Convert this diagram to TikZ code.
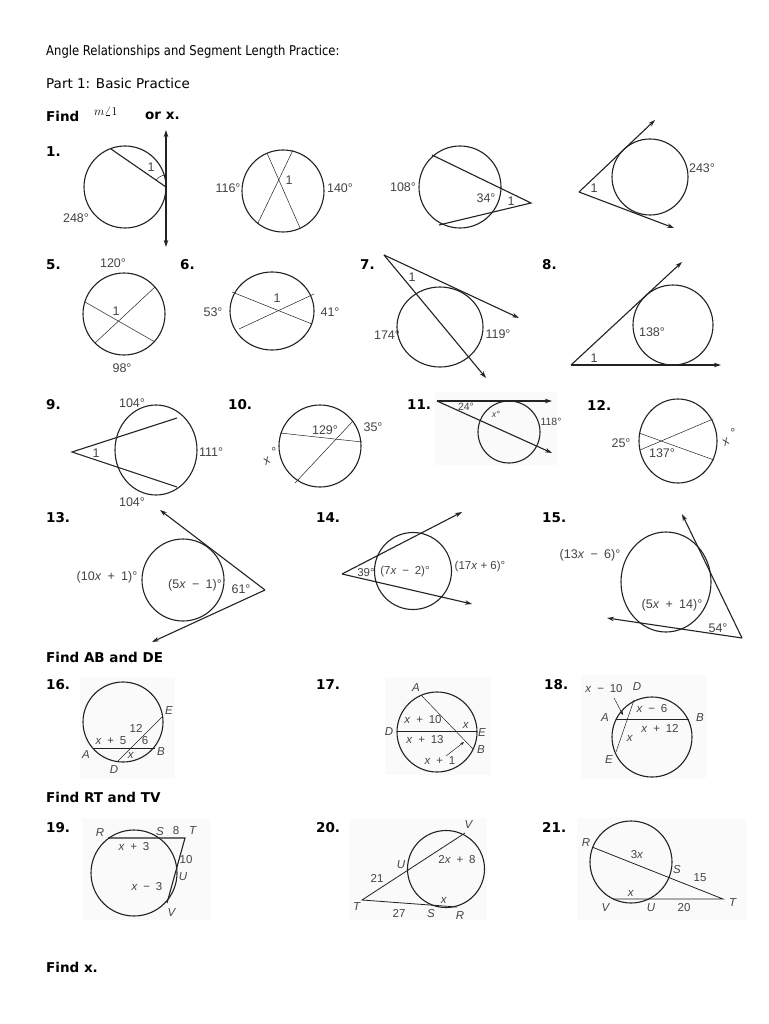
\documentclass[tikz,border=0pt]{standalone}
\usepackage{fontspec}
\setmainfont{DejaVu Sans}
\newfontfamily\figfont{Liberation Sans}
\newfontfamily\titlefont[FakeStretch=0.86]{DejaVu Sans}
\usetikzlibrary{arrows.meta, calc}
\definecolor{INK}{HTML}{222222}
\definecolor{LBLGRAY}{HTML}{444444}
\definecolor{SCANBG}{HTML}{FAFAFA}
\newcommand{\vx}{\textit{x}}
\newcommand{\gap}{\hspace{0.5em}}

\begin{document}
\begin{tikzpicture}[x=1pt, y=-1pt,
    circ/.style={draw=INK, line width=1.1pt},
    seg/.style={draw=INK, line width=1.1pt},
    fine/.style={draw=INK, line width=0.5pt},
    ray/.style={seg, -{Stealth[length=7pt, width=4.5pt]}},
    dray/.style={seg, {Stealth[length=7pt, width=4.5pt]}-{Stealth[length=7pt, width=4.5pt]}},
    lead/.style={fine, -{Stealth[length=4pt, width=3pt]}},
    scan/.style={fill=SCANBG},
    head/.style={anchor=west, inner sep=0pt, font=\fontsize{13.5}{16}\selectfont},
    num/.style={anchor=west, inner sep=0pt, font=\fontsize{13.5}{16}\selectfont\bfseries},
    lbl/.style={inner sep=0pt, text=LBLGRAY, font=\figfont\fontsize{12.5}{14}\selectfont},
    mlbl/.style={inner sep=0pt, text=LBLGRAY, font=\figfont\fontsize{11.5}{13}\selectfont},
    slbl/.style={inner sep=0pt, text=LBLGRAY, font=\figfont\fontsize{11.5}{13}\selectfont}
  ]
  \fill[white] (0,0) rectangle (768,1024);
  \useasboundingbox (0,0) rectangle (768,1024);

  % faint scanned panels
  \fill[scan] (434,392) rectangle (557,465);
  \fill[scan] (80,678) rectangle (175,778);
  \fill[scan] (385,678) rectangle (491,775);
  \fill[scan] (581,675) rectangle (706,778);
  \fill[scan] (82,818) rectangle (210,920);
  \fill[scan] (350,818) rectangle (487,920);
  \fill[scan] (577,818) rectangle (746,920);

  % headings
  \node[head, font=\titlefont\fontsize{13.5}{16}\selectfont] (title) at (46,52) {Angle Relationships and Segment Length Practice:};
  \node[head] (part) at (46,83) {Part 1: Basic Practice};
  \node[num] (find) at (46,116) {Find};
  \node[anchor=west, inner sep=0pt, font=\fontsize{12.5}{14}\selectfont] (mang) at (94,111) {$m\angle1$};
  \node[num] (orx) at (145,116) {or x.};

  % 1
  \node[num] (n1) at (46,152) {1.};
  \coordinate (c1) at (125,187);
  \coordinate (t1) at (166,187);
  \coordinate (t1a) at (166,130);
  \coordinate (t1b) at (166,247);
  \coordinate (p1) at (111,149);
  \draw[circ] (c1) circle[radius=41];
  \draw[dray] (t1a) -- (t1b);
  \draw[seg] (p1) -- (t1);
  \draw[fine] ($(t1)+(214.6:12)$) arc[start angle=214.6, end angle=270, radius=12];
  \node[lbl] (a1) at (151,167) {1};
  \node[lbl] (b1) at (76,218) {248°};

  % 2
  \coordinate (c2) at (283,191);
  \draw[circ] (c2) circle[radius=41];
  \draw[fine] (267,153) coordinate (p2a) -- (300,228) coordinate (p2b);
  \draw[fine] (293,150) coordinate (p2c) -- (258,223) coordinate (p2d);
  \node[lbl] (a2) at (289,180) {1};
  \node[lbl] (b2) at (228,188) {116°};
  \node[lbl] (d2) at (340,188) {140°};

  % 3
  \coordinate (c3) at (460,187);
  \coordinate (v3) at (531,203);
  \coordinate (p3a) at (432,155);
  \coordinate (p3b) at (439,225);
  \draw[circ] (c3) circle[radius=41];
  \draw[seg] (p3a) -- (v3) -- (p3b);
  \node[lbl] (a3) at (511,201) {1};
  \node[lbl] (b3) at (403,187) {108°};
  \node[lbl] (d3) at (486,198) {34°};

  % 4
  \coordinate (c4) at (650,177);
  \coordinate (v4) at (579,192);
  \coordinate (p4a) at (655,120);
  \coordinate (p4b) at (674,228);
  \draw[circ] (c4) circle[radius=38];
  \draw[ray] (v4) -- (p4a);
  \draw[ray] (v4) -- (p4b);
  \node[lbl] (a4) at (594,188) {1};
  \node[lbl] (b4) at (702,168) {243°};

  % 5
  \node[num] (n5) at (46,265) {5.};
  \coordinate (c5) at (124,314);
  \draw[circ] (c5) circle[radius=41];
  \draw[fine] (85,302) coordinate (p5a) -- (155,342) coordinate (p5b);
  \draw[fine] (155,287) coordinate (p5c) -- (95,343) coordinate (p5d);
  \node[lbl] (a5) at (116,311) {1};
  \node[lbl] (b5) at (113,263) {120°};
  \node[lbl] (d5) at (122,368) {98°};

  % 6
  \node[num] (n6) at (180,265) {6.};
  \coordinate (c6) at (272,311);
  \draw[circ] (c6) ellipse[x radius=42, y radius=39];
  \draw[fine] (232,292) coordinate (p6a) -- (312,324) coordinate (p6b);
  \draw[fine] (314,294) coordinate (p6c) -- (239,329) coordinate (p6d);
  \node[lbl] (a6) at (277,298) {1};
  \node[lbl] (b6) at (213,312) {53°};
  \node[lbl] (d6) at (330,312) {41°};

  % 7
  \node[num] (n7) at (360,265) {7.};
  \coordinate (c7) at (440,327);
  \coordinate (v7) at (384,255);
  \coordinate (p7a) at (519,318);
  \coordinate (p7b) at (486,378);
  \draw[circ] (c7) ellipse[x radius=43, y radius=40];
  \draw[ray] (v7) -- (p7a);
  \draw[ray] (v7) -- (p7b);
  \node[lbl] (a7) at (412,277) {1};
  \node[lbl] (b7) at (387,335) {174°};
  \node[lbl] (d7) at (498,334) {119°};

  % 8
  \node[num] (n8) at (542,265) {8.};
  \coordinate (c8) at (673,325);
  \coordinate (v8) at (571,365);
  \coordinate (p8a) at (682,262);
  \coordinate (p8b) at (721,365);
  \draw[circ] (c8) circle[radius=40];
  \draw[ray] (v8) -- (p8a);
  \draw[ray] (v8) -- (p8b);
  \node[lbl] (a8) at (594,358) {1};
  \node[lbl] (b8) at (652,332) {138°};

  % 9
  \node[num] (n9) at (46,405) {9.};
  \coordinate (c9) at (156,450);
  \coordinate (v9) at (72,452);
  \coordinate (p9a) at (177,418);
  \coordinate (p9b) at (177,487);
  \draw[circ] (c9) ellipse[x radius=41, y radius=45];
  \draw[seg] (p9a) -- (v9) -- (p9b);
  \node[lbl] (a9) at (96,453) {1};
  \node[lbl] (b9) at (132,403) {104°};
  \node[lbl] (d9) at (132,502) {104°};
  \node[lbl] (e9) at (211,452) {111°};

  % 10
  \node[num] (n10) at (228,405) {10.};
  \coordinate (c10) at (320,446);
  \draw[circ] (c10) circle[radius=41];
  \draw[fine] (280,433) coordinate (p10a) -- (362,442) coordinate (p10b);
  \draw[fine] (353,421) coordinate (p10c) -- (295,483) coordinate (p10d);
  \node[lbl] (a10) at (325,430) {129°};
  \node[lbl] (b10) at (373,427) {35°};
  \node[lbl, rotate=30] (d10) at (267,461) {\vx};
  \node[lbl, rotate=30] (d10o) at (275,451) {°};

  % 11
  \node[num] (n11) at (407,405) {11.};
  \coordinate (c11) at (509,432);
  \coordinate (v11) at (437,401);
  \coordinate (p11a) at (552,401);
  \coordinate (p11b) at (552,453);
  \draw[circ] (c11) circle[radius=31];
  \draw[ray] (v11) -- (p11a);
  \draw[ray] (v11) -- (p11b);
  \node[slbl, font=\figfont\fontsize{10.5}{12}\selectfont] (a11) at (466,407) {24°};
  \node[slbl, font=\figfont\fontsize{9}{11}\selectfont] (b11) at (496,414) {\textit{x°}};
  \node[slbl, font=\figfont\fontsize{10.5}{12}\selectfont] (d11) at (551,422) {118°};

  % 12
  \node[num] (n12) at (587,405) {12.};
  \coordinate (c12) at (678,441);
  \draw[circ] (c12) ellipse[x radius=39, y radius=42];
  \draw[fine] (639,433) coordinate (p12a) -- (714,460) coordinate (p12b);
  \draw[fine] (713,419) coordinate (p12c) -- (640,450) coordinate (p12d);
  \node[lbl] (a12) at (621,443) {25°};
  \node[lbl] (b12) at (662,453) {137°};
  \node[lbl, rotate=30] (d12) at (726,442) {\vx};
  \node[lbl, rotate=30] (d12o) at (734,432) {°};

  % 13
  \node[num] (n13) at (46,518) {13.};
  \coordinate (c13) at (183,580);
  \coordinate (v13) at (265,590);
  \coordinate (p13a) at (160,510);
  \coordinate (p13b) at (152,642);
  \draw[circ] (c13) circle[radius=41];
  \draw[ray] (v13) -- (p13a);
  \draw[ray] (v13) -- (p13b);
  \node[lbl] (a13) at (107,577) {(10\vx\gap+\gap1)°};
  \node[lbl] (b13) at (195,585) {(5\vx\gap−\gap1)°};
  \node[lbl] (d13) at (241,589) {61°};

  % 14
  \node[num] (n14) at (316,518) {14.};
  \coordinate (c14) at (413,571);
  \coordinate (v14) at (342,574);
  \coordinate (p14a) at (462,512);
  \coordinate (p14b) at (472,604);
  \draw[circ] (c14) circle[radius=38.5];
  \draw[ray] (v14) -- (p14a);
  \draw[ray] (v14) -- (p14b);
  \node[mlbl] (a14) at (366,573) {39°};
  \node[mlbl] (b14) at (405,572) {(7\vx\gap−\gap2)°};
  \node[mlbl] (d14) at (480,567) {(17\vx\ + 6)°};

  % 15
  \node[num] (n15) at (542,518) {15.};
  \coordinate (c15) at (666,582);
  \coordinate (v15) at (742,638);
  \coordinate (p15a) at (682,514);
  \coordinate (p15b) at (607,618);
  \draw[circ] (c15) ellipse[x radius=45, y radius=50];
  \draw[ray] (v15) -- (p15a);
  \draw[ray] (v15) -- (p15b);
  \node[lbl] (a15) at (590,555) {(13\vx\gap−\gap6)°};
  \node[lbl] (b15) at (672,605) {(5\vx\gap+\gap14)°};
  \node[lbl] (d15) at (718,628) {54°};

  % Find AB and DE
  \node[num] (find2) at (46,657) {Find AB and DE};

  % 16
  \node[num] (n16) at (46,685) {16.};
  \coordinate (c16) at (123,722);
  \coordinate (A16) at (93,748);
  \coordinate (B16) at (155,748);
  \coordinate (D16) at (117,762);
  \coordinate (E16) at (162,717);
  \draw[circ] (c16) circle[radius=40];
  \draw[seg, line width=0.8pt] (A16) -- (B16);
  \draw[fine] (D16) -- (E16);
  \node[slbl] (lE16) at (169,711) {\textit{E}};
  \node[slbl] (l12) at (136,728) {12};
  \node[slbl] (lx5) at (111,741) {\vx\gap+\gap5};
  \node[slbl] (l6) at (145,741) {6};
  \node[slbl] (lA16) at (86,755) {\textit{A}};
  \node[slbl] (lx16) at (131,755) {\vx};
  \node[slbl] (lB16) at (161,752) {\textit{B}};
  \node[slbl] (lD16) at (114,770) {\textit{D}};

  % 17
  \node[num] (n17) at (316,685) {17.};
  \coordinate (c17) at (437,732);
  \coordinate (D17) at (397,731);
  \coordinate (E17) at (477,731);
  \coordinate (A17) at (421,695);
  \coordinate (B17) at (473,749);
  \coordinate (q17a) at (446,756);
  \coordinate (q17b) at (464,742);
  \draw[circ] (c17) circle[radius=40];
  \draw[fine] (D17) -- (E17);
  \draw[fine] (A17) -- (B17);
  \draw[lead] (q17a) -- (q17b);
  \node[slbl] (lA17) at (416,688) {\textit{A}};
  \node[slbl] (lx10) at (423,720) {\vx\gap+\gap10};
  \node[slbl] (lx17) at (466,725) {\vx};
  \node[slbl] (lD17) at (389,732) {\textit{D}};
  \node[slbl] (lE17) at (482,733) {\textit{E}};
  \node[slbl] (lx13) at (425,740) {\vx\gap+\gap13};
  \node[slbl] (lB17) at (481,750) {\textit{B}};
  \node[slbl] (lx1) at (440,761) {\vx\gap+\gap1};

  % 18
  \node[num] (n18) at (544,685) {18.};
  \coordinate (c18) at (652,737);
  \coordinate (A18) at (616,719);
  \coordinate (B18) at (689,719);
  \coordinate (D18) at (634,700);
  \coordinate (E18) at (616,752);
  \coordinate (q18a) at (614,698);
  \coordinate (q18b) at (623,715);
  \draw[circ] (c18) circle[radius=40];
  \draw[fine] (A18) -- (B18);
  \draw[fine] (D18) -- (E18);
  \draw[lead] (q18a) -- (q18b);
  \node[slbl] (lx10b) at (604,689) {\vx\gap−\gap10};
  \node[slbl] (lD18) at (637,687) {\textit{D}};
  \node[slbl] (lA18) at (605,718) {\textit{A}};
  \node[slbl] (lx6) at (652,709) {\vx\gap−\gap6};
  \node[slbl] (lB18) at (700,718) {\textit{B}};
  \node[slbl] (lx12) at (660,728) {\vx\gap+\gap12};
  \node[slbl] (lx18) at (630,738) {\vx};
  \node[slbl] (lE18) at (609,760) {\textit{E}};

  % Find RT and TV
  \node[num] (find3) at (46,797) {Find RT and TV};

  % 19
  \node[num] (n19) at (46,828) {19.};
  \coordinate (c19) at (134,873);
  \coordinate (R19) at (108,838);
  \coordinate (T19) at (185,838);
  \coordinate (V19) at (167,903);
  \draw[circ] (c19) circle[radius=43];
  \draw[seg] (R19) -- (T19) -- (V19);
  \node[slbl] (lR19) at (100,833) {\textit{R}};
  \node[slbl] (lS19) at (160,832) {\textit{S}};
  \node[slbl] (l8) at (176,831) {8};
  \node[slbl] (lT19) at (193,831) {\textit{T}};
  \node[slbl] (lx3) at (134,847) {\vx\gap+\gap3};
  \node[slbl] (l10) at (186,860) {10};
  \node[slbl] (lU19) at (183,877) {\textit{U}};
  \node[slbl] (lxm3) at (147,887) {\vx\gap−\gap3};
  \node[slbl] (lV19) at (172,913) {\textit{V}};

  % 20
  \node[num] (n20) at (316,828) {20.};
  \coordinate (c20) at (446,869);
  \coordinate (T20) at (362,900);
  \coordinate (V20) at (465,833);
  \coordinate (R20) at (457,907);
  \draw[circ] (c20) circle[radius=38.5];
  \draw[seg, line width=0.8pt] (V20) -- (T20) -- (R20);
  \node[slbl] (lV20) at (469,825) {\textit{V}};
  \node[slbl] (lU20) at (401,865) {\textit{U}};
  \node[slbl] (l2x8) at (457,860) {2\vx\gap+\gap8};
  \node[slbl] (l21) at (377,878) {21};
  \node[slbl] (lx20) at (444,900) {\vx};
  \node[slbl] (lT20) at (357,907) {\textit{T}};
  \node[slbl] (l27) at (399,913) {27};
  \node[slbl] (lS20) at (431,914) {\textit{S}};
  \node[slbl] (lR20) at (460,916) {\textit{R}};

  % 21
  \node[num] (n21) at (542,827) {21.};
  \coordinate (c21) at (631,862);
  \coordinate (R21) at (592,847);
  \coordinate (T21) at (723,899);
  \coordinate (V21) at (613,899);
  \draw[circ] (c21) circle[radius=41];
  \draw[seg, line width=0.8pt] (R21) -- (T21) -- (V21);
  \node[slbl] (lR21) at (586,843) {\textit{R}};
  \node[slbl] (l3x) at (637,855) {3\vx};
  \node[slbl] (lS21) at (677,870) {\textit{S}};
  \node[slbl] (l15) at (700,878) {15};
  \node[slbl] (lx21) at (631,893) {\vx};
  \node[slbl] (lV21) at (606,908) {\textit{V}};
  \node[slbl] (lU21) at (651,908) {\textit{U}};
  \node[slbl] (l20) at (684,908) {20};
  \node[slbl] (lT21) at (733,903) {\textit{T}};

  % Find x
  \node[num] (find4) at (46,967) {Find x.};
\end{tikzpicture}
\end{document}
